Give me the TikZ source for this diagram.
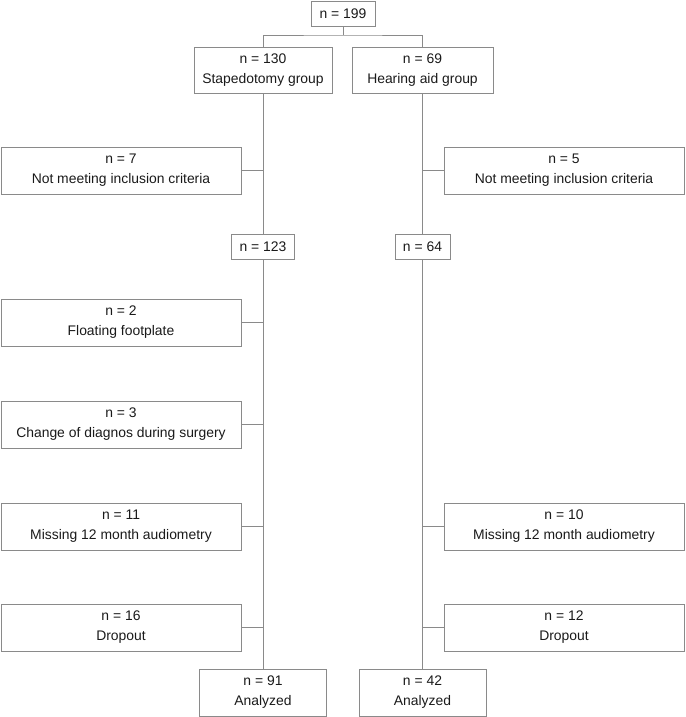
\documentclass[tikz,border=0pt]{standalone}
\usepackage{fontspec}
\setmainfont{Liberation Sans}
\definecolor{linegray}{HTML}{8A8A8A}
\definecolor{txt}{HTML}{1A1A1A}
\begin{document}
\begin{tikzpicture}[x=1pt,y=-1pt,
  box/.style={draw=linegray, line width=0.9pt, inner sep=0pt, align=center,
    text=txt, font=\fontsize{13.9}{20}\selectfont},
  conn/.style={draw=linegray, line width=0.9pt}]
\useasboundingbox (0,0) rectangle (685,717);
% top
\node[box, minimum width=64pt, minimum height=25pt] (top) at (343,13.5) {n = 199};
\node[box, minimum width=138pt, minimum height=46pt] (stap) at (263,70) {n = 130\\Stapedotomy group};
\node[box, minimum width=141pt, minimum height=46pt] (hear) at (422.5,70) {n = 69\\Hearing aid group};
% exclusions row
\node[box, minimum width=240pt, minimum height=47pt] (n7) at (121,170.5) {n = 7\\Not meeting inclusion criteria};
\node[box, minimum width=240pt, minimum height=47pt] (n5) at (564,170.5) {n = 5\\Not meeting inclusion criteria};
\node[box, minimum width=63pt, minimum height=25pt] (n123) at (263,246.5) {n = 123};
\node[box, minimum width=55pt, minimum height=25pt] (n64) at (422.5,246.5) {n = 64};
\node[box, minimum width=240pt, minimum height=47pt] (n2) at (121,322.5) {n = 2\\Floating footplate};
\node[box, minimum width=240pt, minimum height=47pt] (n3) at (121,424.5) {n = 3\\Change of diagnos during surgery};
\node[box, minimum width=240pt, minimum height=47pt] (n11) at (121,526.5) {n = 11\\Missing 12 month audiometry};
\node[box, minimum width=240pt, minimum height=47pt] (n10) at (564,526.5) {n = 10\\Missing 12 month audiometry};
\node[box, minimum width=240pt, minimum height=47pt] (n16) at (121,627.5) {n = 16\\Dropout};
\node[box, minimum width=240pt, minimum height=47pt] (n12) at (564,627.5) {n = 12\\Dropout};
\node[box, minimum width=127pt, minimum height=47pt] (a91) at (263,692.5) {n = 91\\Analyzed};
\node[box, minimum width=127pt, minimum height=47pt] (a42) at (422.5,692.5) {n = 42\\Analyzed};
% connectors
\coordinate (br) at (343,35);
\draw[conn] (top.south) -- (br);
\draw[conn] (stap.north) |- (br) -| (hear.north);
\draw[conn] (stap.south) -- (n123.north);
\draw[conn] (n123.south) -- (a91.north);
\draw[conn] (hear.south) -- (n64.north);
\draw[conn] (n64.south) -- (a42.north);
\draw[conn] (n7.east) -- (n7.east -| stap.south);
\draw[conn] (n2.east) -- (n2.east -| stap.south);
\draw[conn] (n3.east) -- (n3.east -| stap.south);
\draw[conn] (n11.east) -- (n11.east -| stap.south);
\draw[conn] (n16.east) -- (n16.east -| stap.south);
\draw[conn] (n5.west) -- (n5.west -| hear.south);
\draw[conn] (n10.west) -- (n10.west -| hear.south);
\draw[conn] (n12.west) -- (n12.west -| hear.south);
\end{tikzpicture}
\end{document}
